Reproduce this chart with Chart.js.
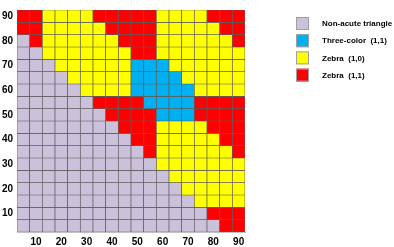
<!DOCTYPE html>
<html>
<head>
<meta charset="utf-8">
<script src="https://cdn.jsdelivr.net/npm/chart.js@4"></script>
<style>
  html, body { margin: 0; padding: 0; background: #fff; }
  #wrap { width: 394px; height: 247px; }
</style>
</head>
<body>
<div id="wrap"><canvas id="gridChart"></canvas></div>
<script>
// column positions (x) and row positions (y), one cell every 5
const xValues = [5, 10, 15, 20, 25, 30, 35, 40, 45, 50, 55, 60, 65, 70, 75, 80, 85, 90];
const yValues = [90, 85, 80, 75, 70, 65, 60, 55, 50, 45, 40, 35, 30, 25, 20, 15, 10, 5];
const tickLabels = [10, 20, 30, 40, 50, 60, 70, 80, 90];

// cell class per row, top row first: G = non-acute, B = three-color, Y = zebra (1,0), R = zebra (1,1)
const cellRows = [
  "RRYYYYRRRRRYYYYRRR",
  "RRYYYYYRRRRYYYYYRR",
  "GRYYYYYYRRRYYYYYYR",
  "GGYYYYYYYRRYYYYYYY",
  "GGGYYYYYYBBBYYYYYY",
  "GGGGYYYYYBBBBYYYYY",
  "GGGGGYYYYBBBBBYYYY",
  "GGGGGGRRRRBBBBRRRR",
  "GGGGGGGRRRRBBBRRRR",
  "GGGGGGGGRRRYYYYRRR",
  "GGGGGGGGGRRYYYYYRR",
  "GGGGGGGGGGRYYYYYYR",
  "GGGGGGGGGGGYYYYYYY",
  "GGGGGGGGGGGGYYYYYY",
  "GGGGGGGGGGGGGYYYYY",
  "GGGGGGGGGGGGGGYYYY",
  "GGGGGGGGGGGGGGGRRR",
  "GGGGGGGGGGGGGGGGRR"
];

const classCodes = ["G", "B", "Y", "R"];
const classNames = ["Non-acute triangle", "Three-color  (1,1)", "Zebra  (1,0)", "Zebra  (1,1)"];
const classColors = ["#CCC1DA", "#00B0F0", "#FFFF00", "#FF0000"];

const colorOf = code => classColors[classCodes.indexOf(code)];

// one floating-bar dataset per row
const datasets = yValues.map((y, r) => ({
  label: "y=" + y,
  data: xValues.map(() => [y - 2.5, y + 2.5]),
  backgroundColor: cellRows[r].split("").map(colorOf),
  borderColor: "#5e5e5e",
  borderWidth: 0.7,
  borderSkipped: false,
  grouped: false,
  barPercentage: 1,
  categoryPercentage: 1
}));

const legendPlugin = {
  id: "sideLegend",
  afterDraw(chart) {
    const ctx = chart.ctx;
    ctx.save();
    ctx.font = "bold 8px 'Liberation Sans'";
    ctx.textBaseline = "middle";
    classNames.forEach((name, i) => {
      const top = 17 + i * 17.2;
      ctx.fillStyle = classColors[i];
      ctx.fillRect(296, top, 13, 13);
      ctx.strokeStyle = "#a0a0a0";
      ctx.lineWidth = 1;
      ctx.strokeRect(296.5, top + 0.5, 12, 12);
      ctx.fillStyle = "#000";
      ctx.fillText(name, 322, top + 7);
    });
    ctx.restore();
  }
};

const tickFont = { family: "Liberation Sans", size: 10, weight: "bold" };

new Chart(document.getElementById("gridChart"), {
  type: "bar",
  data: { labels: xValues, datasets: datasets },
  options: {
    responsive: true,
    maintainAspectRatio: false,
    animation: false,
    layout: { padding: { top: 4, right: 149, left: 0, bottom: 0 } },
    plugins: { legend: { display: false }, tooltip: { enabled: false } },
    scales: {
      x: {
        grid: { display: false, drawTicks: false },
        border: { display: true, color: "#c0c0c0" },
        ticks: {
          autoSkip: false,
          maxRotation: 0,
          padding: 4,
          color: "#000",
          font: tickFont,
          callback: function (v, i) {
            const x = xValues[i];
            return tickLabels.includes(x) ? String(x) : "";
          }
        },
        afterFit: s => { s.height = 15; }
      },
      y: {
        min: 2.5,
        max: 92.5,
        grid: { display: false, drawTicks: false },
        border: { display: false },
        afterBuildTicks: s => { s.ticks = tickLabels.map(v => ({ value: v })); },
        ticks: { padding: 4, color: "#000", font: tickFont },
        afterFit: s => { s.width = 17; }
      }
    }
  },
  plugins: [legendPlugin]
});
</script>
</body>
</html>
